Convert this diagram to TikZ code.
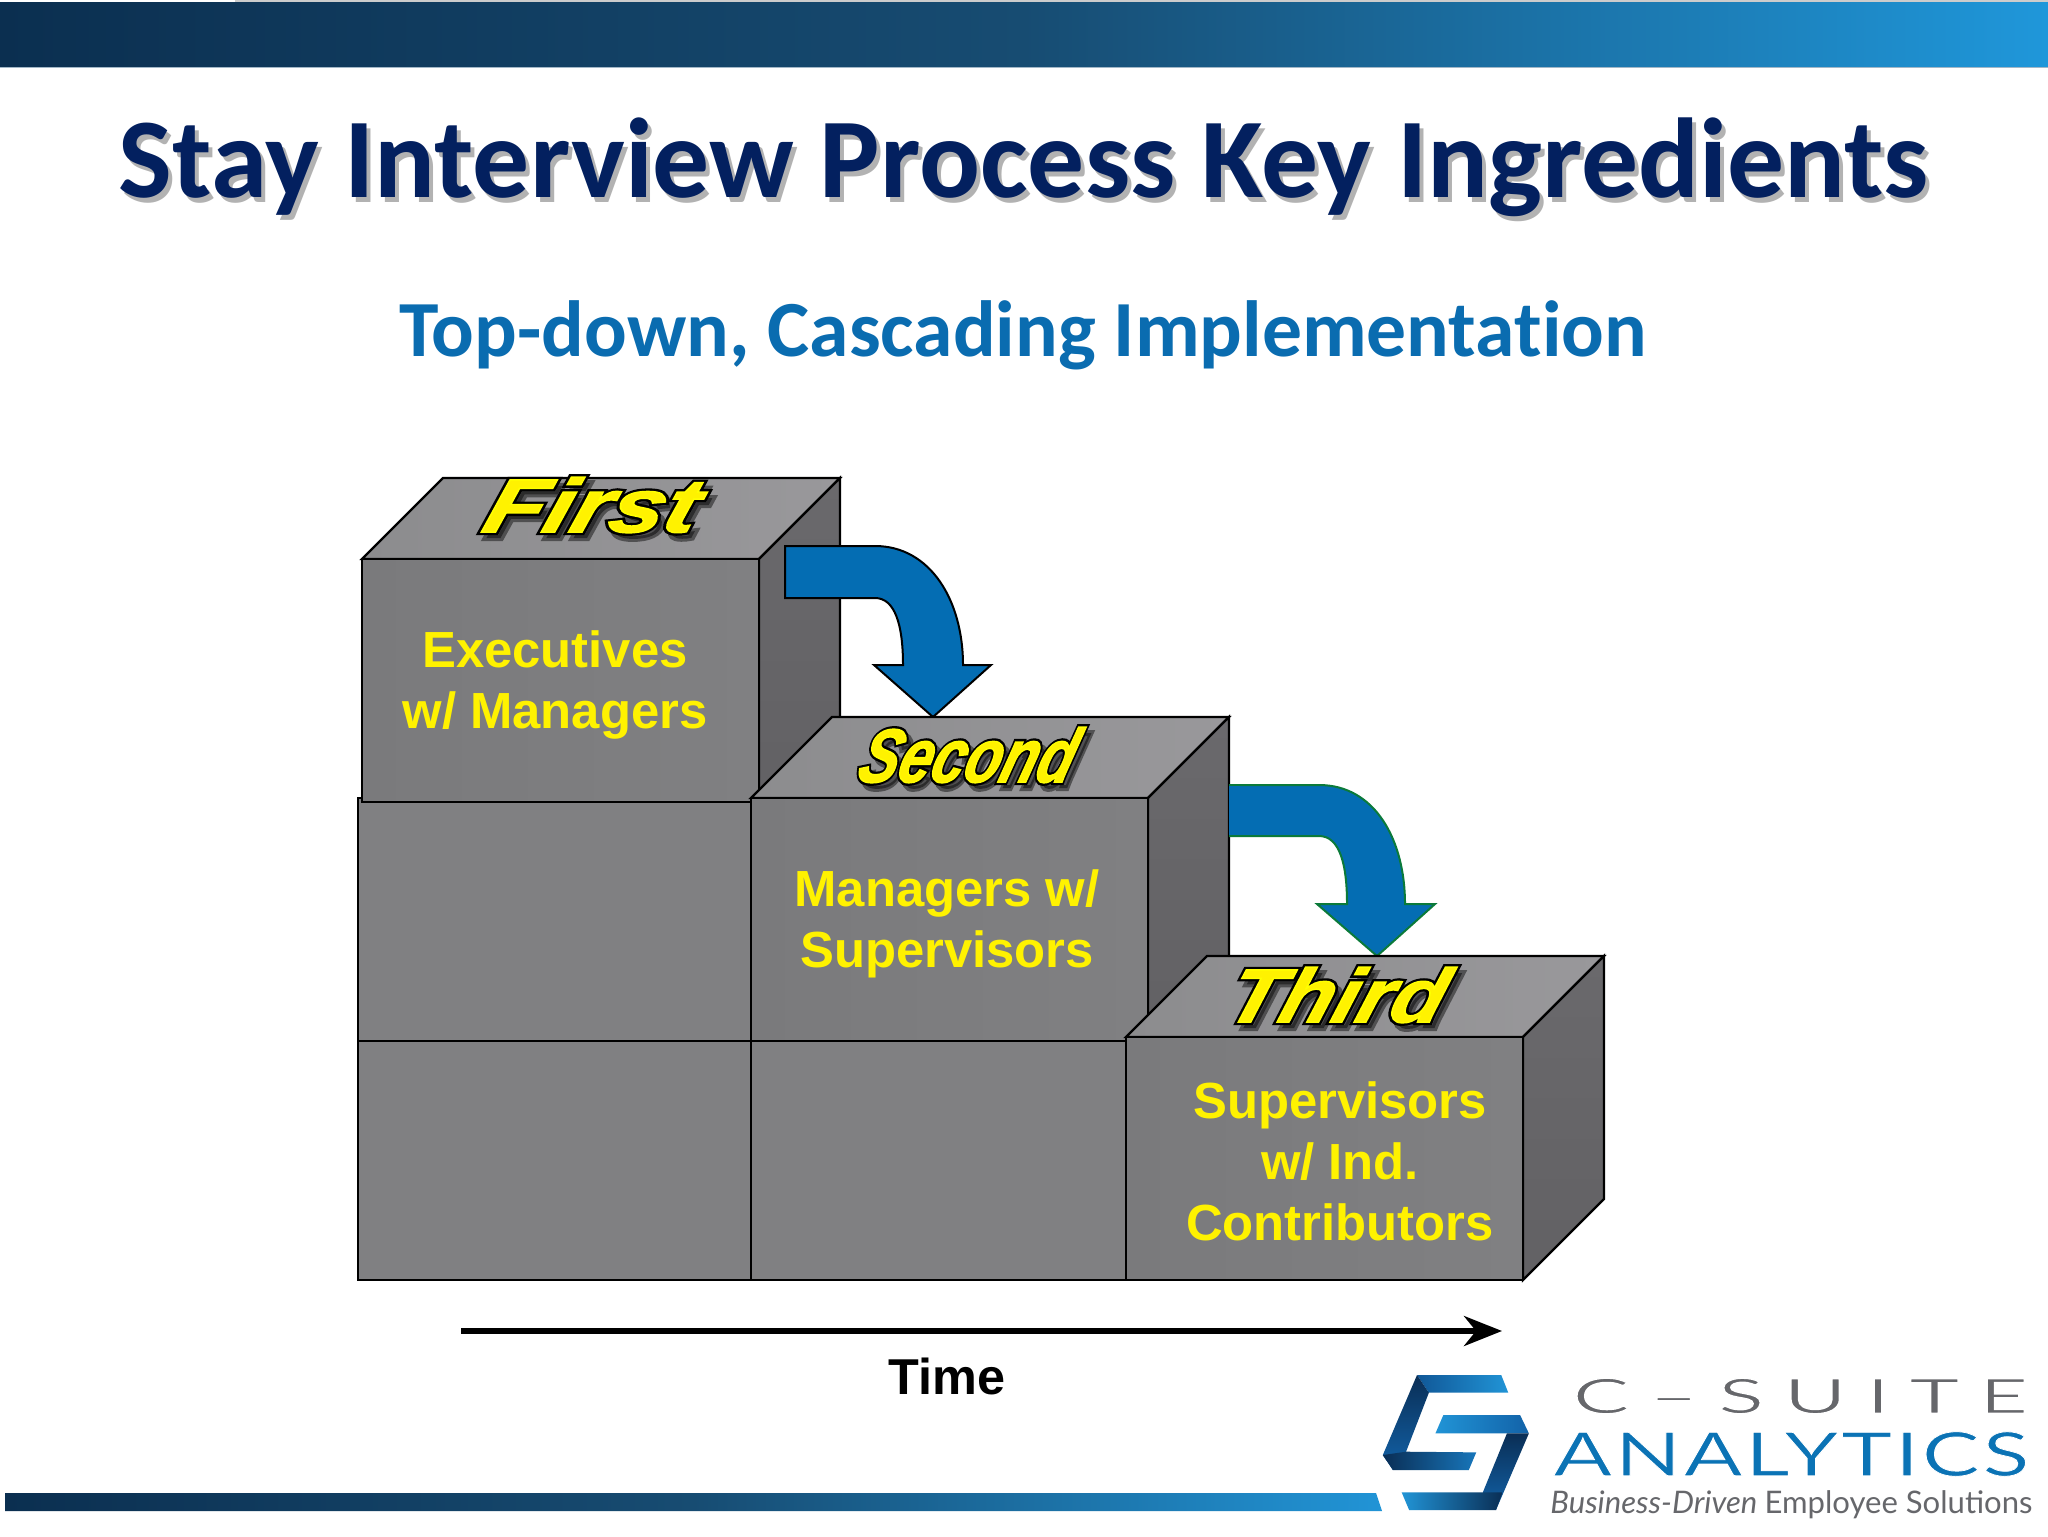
\documentclass[tikz,border=0pt]{standalone}
\usepackage{graphicx}
\usepackage{fontspec}
\setmainfont{Liberation Sans}
\newfontfamily\titlefont{Carlito}[Ligatures=NoCommon]
\newfontfamily\logofont{Lato}[LetterSpace=22]
\newfontfamily\logofontb{Lato}[LetterSpace=3]
\usetikzlibrary{arrows.meta,shadings}
\definecolor{barDark}{HTML}{0B2F50}
\definecolor{barMid}{HTML}{174C72}
\definecolor{barLight}{HTML}{1F97DA}
\definecolor{titleBlue}{HTML}{03205F}
\definecolor{subBlue}{HTML}{0A6CB0}
\definecolor{arrowBlue}{HTML}{046DB3}
\definecolor{arrowGreen}{HTML}{0B7A3A}
\definecolor{faceFront}{HTML}{808082}
\definecolor{faceFrontD}{HTML}{7A7A7C}
\definecolor{faceTop}{HTML}{99989B}
\definecolor{faceTopD}{HTML}{8C8C8E}
\definecolor{faceSide}{HTML}{6A696C}
\definecolor{faceSideD}{HTML}{626164}
\definecolor{logoDark}{HTML}{0A2E55}
\definecolor{logoMid}{HTML}{1262A8}
\definecolor{logoLight}{HTML}{2194D6}
\definecolor{logoGray}{HTML}{66676B}
\definecolor{logoBlue}{HTML}{0B73B5}
% text with an outline: stroke width, stroke colour (r g b), text
\newcommand\strokedtext[3]{\special{pdf:code 2 Tr #1 w #2 RG}#3\special{pdf:code 0 Tr}}
\newcommand\stampset[5]{% name, xscale, x, y, text
  \node[stamp,xscale=#2,opacity=.45] (#1shadow) at ({#3+5+0.3*(#4+6)},{#4+6}) {\color{black}\strokedtext{3}{0 0 0}{#5}};
  \node[stamp,xscale=#2] (#1outline) at ({#3+0.3*#4},{#4}) {\color{black}\strokedtext{3}{0 0 0}{#5}};
  \node[stamp,xscale=#2] (#1) at ({#3+0.3*#4},{#4}) {\color{yellow}\strokedtext{0.7}{1 1 0}{#5}};
}
\tikzset{
  x=0.5pt,y=-0.5pt,
  boxline/.style={draw=black,line width=1.1pt,line join=miter},
  front/.style={boxline,left color=faceFrontD,right color=faceFront},
  topface/.style={boxline,left color=faceTopD,right color=faceTop},
  sideface/.style={boxline,top color=faceSide,bottom color=faceSideD},
  cell/.style={boxline,fill=faceFront},
  boxlabel/.style={font=\bfseries\fontsize{25.4}{30.5}\selectfont,text=yellow,align=center},
  bend1/.style={fill=arrowBlue,draw=black,line width=1pt,line join=miter},
  bend2/.style={fill=arrowBlue,draw=arrowGreen,line width=1pt,line join=miter},
  stamp/.style={font=\bfseries\itshape\fontsize{38}{38}\selectfont,transform shape,inner sep=0pt},
}
\begin{document}
\begin{tikzpicture}
\useasboundingbox (0,0) rectangle (2048,1536);
\fill[white] (0,0) rectangle (2048,1536);
% bars
\fill[color=black!20!white] (235,0) rectangle (2048,4);
\shade[left color=barDark,right color=barLight,middle color=barMid] (0,3) rectangle (2048,67);
\draw[color=barMid!40!white,line width=.6pt] (0,67.5) -- (2048,67.5);
\shade[left color=barDark,right color=logoLight,middle color=barMid] (5,1493) -- (1376,1493) -- (1382,1511) -- (5,1511) -- cycle;
% title
\node[text=black!60!white,opacity=.5,inner sep=0pt] (titleshadow) at (1028,172) {\titlefont\bfseries\fontsize{56.8}{60}\selectfont Stay Interview Process Key Ingredients};
\node[text=titleBlue,inner sep=0pt] (title) at (1024,167) {\titlefont\bfseries\fontsize{56.8}{60}\selectfont Stay Interview Process Key Ingredients};
\node[text=subBlue,inner sep=0pt] (subtitle) at (1023,335) {\titlefont\bfseries\fontsize{39.8}{44}\selectfont Top-down, Cascading Implementation};
% lower cells
\filldraw[cell] (358,798) rectangle (751,1041);
\filldraw[cell] (358,1041) rectangle (751,1280);
\filldraw[cell] (751,1041) rectangle (1126,1280);
% box 1
\path[topface] (362,559) -- (443,478) -- (840,478) -- (759,559) -- cycle;
\path[sideface] (759,559) -- (840,478) -- (840,720) -- (759,802) -- cycle;
\path[front] (362,559) rectangle (759,802);
% arrow 1
\coordinate (a1s) at (785,546);
\coordinate (a1t) at (933,717);
\path[bend1] (a1s) -- (875,546) .. controls (930,546) and (963,600) .. (963,665) -- (991,665) -- (a1t) -- (874,665) -- (903,665) .. controls (903,625) and (895,598) .. (875,598) -- (785,598) -- cycle;
% box 2
\path[topface] (751,798) -- (832,717) -- (1229,717) -- (1148,798) -- cycle;
\path[sideface] (1148,798) -- (1229,717) -- (1229,960) -- (1148,1041) -- cycle;
\path[front] (751,798) rectangle (1148,1041);
% arrow 2
\coordinate (a2s) at (1229,785);
\coordinate (a2t) at (1377,956);
\path[bend2] (a2s) -- (1319,785) .. controls (1375,785) and (1405,840) .. (1405,904) -- (1435,904) -- (a2t) -- (1317,904) -- (1347,904) .. controls (1347,865) and (1340,836) .. (1319,836) -- (1229,836);
\fill[arrowBlue] (1229,786) rectangle (1240,835);
% box 3
\path[topface] (1126,1037) -- (1207,956) -- (1604,956) -- (1523,1037) -- cycle;
\path[sideface] (1523,1037) -- (1604,956) -- (1604,1199) -- (1523,1280) -- cycle;
\path[front] (1126,1037) rectangle (1523,1280);
% labels
\node[boxlabel] (l1) at (555,685) {Executives\\w/ Managers};
\node[boxlabel] (l2) at (947,924) {Managers w/\\Supervisors};
\node[boxlabel] (l3) at (1340,1161) {Supervisors\\w/ Ind.\\Contributors};
% stamps
\begin{scope}[xslant=0.3]
\stampset{first}{1.29}{594}{505}{First}
\stampset{second}{0.78}{970}{755}{Second}
\stampset{third}{1.14}{1339}{995}{Third}
\end{scope}
% time
\coordinate (t0) at (461,1331);
\coordinate (t1) at (1502,1331);
\draw[line width=2.8pt,-{Stealth[length=19pt,width=15pt,inset=6pt]}] (t0) -- (t1);
\node[font=\bfseries\fontsize{25.2}{30}\selectfont] (timelabel) at (947,1376) {Time};
% logo
\begin{scope}[shift={(1360,1350)},x=0.2193pt,y=-0.1667pt]
\shade[left color=logoMid!80!logoDark,right color=logoLight] (130,75) -- (322,75) -- (338,128) -- (157,128) -- cycle;
\shade[top color=logoDark,bottom color=logoMid] (130,75) -- (157,128) -- (105,305) -- (75,360) -- (52,315) -- cycle;
\shade[left color=logoDark,right color=logoMid!60!logoLight] (52,315) -- (105,305) -- (265,307) -- (248,360) -- (75,360) -- cycle;
\shade[left color=logoLight,right color=logoMid] (190,195) -- (365,195) -- (385,250) -- (335,250) -- (172,250) -- cycle;
\shade[top color=logoDark,bottom color=logoMid] (335,250) -- (385,250) -- (310,480) -- (280,427) -- cycle;
\shade[left color=logoLight,right color=logoDark] (95,427) -- (280,427) -- (325,427) -- (310,480) -- (112,480) -- cycle;
\end{scope}
\node[text=logoGray,inner sep=0pt,anchor=west] (csuite) at (1572,1396) {\resizebox{228pt}{17.5pt}{\logofont \strokedtext{0.25}{1 1 1}{C–SUITE}}};
\node[text=logoBlue,inner sep=0pt,anchor=west] (analytics) at (1553,1454) {\resizebox{238pt}{22pt}{\logofontb \strokedtext{0.12}{1 1 1}{ANALYTICS}}};
\node[text=logoGray,inner sep=0pt,anchor=west] (tagline) at (1550,1505) {\resizebox{241pt}{!}{\fontspec{Lato}\itshape Business-Driven \upshape Employee Solutions}};
\end{tikzpicture}
\end{document}
